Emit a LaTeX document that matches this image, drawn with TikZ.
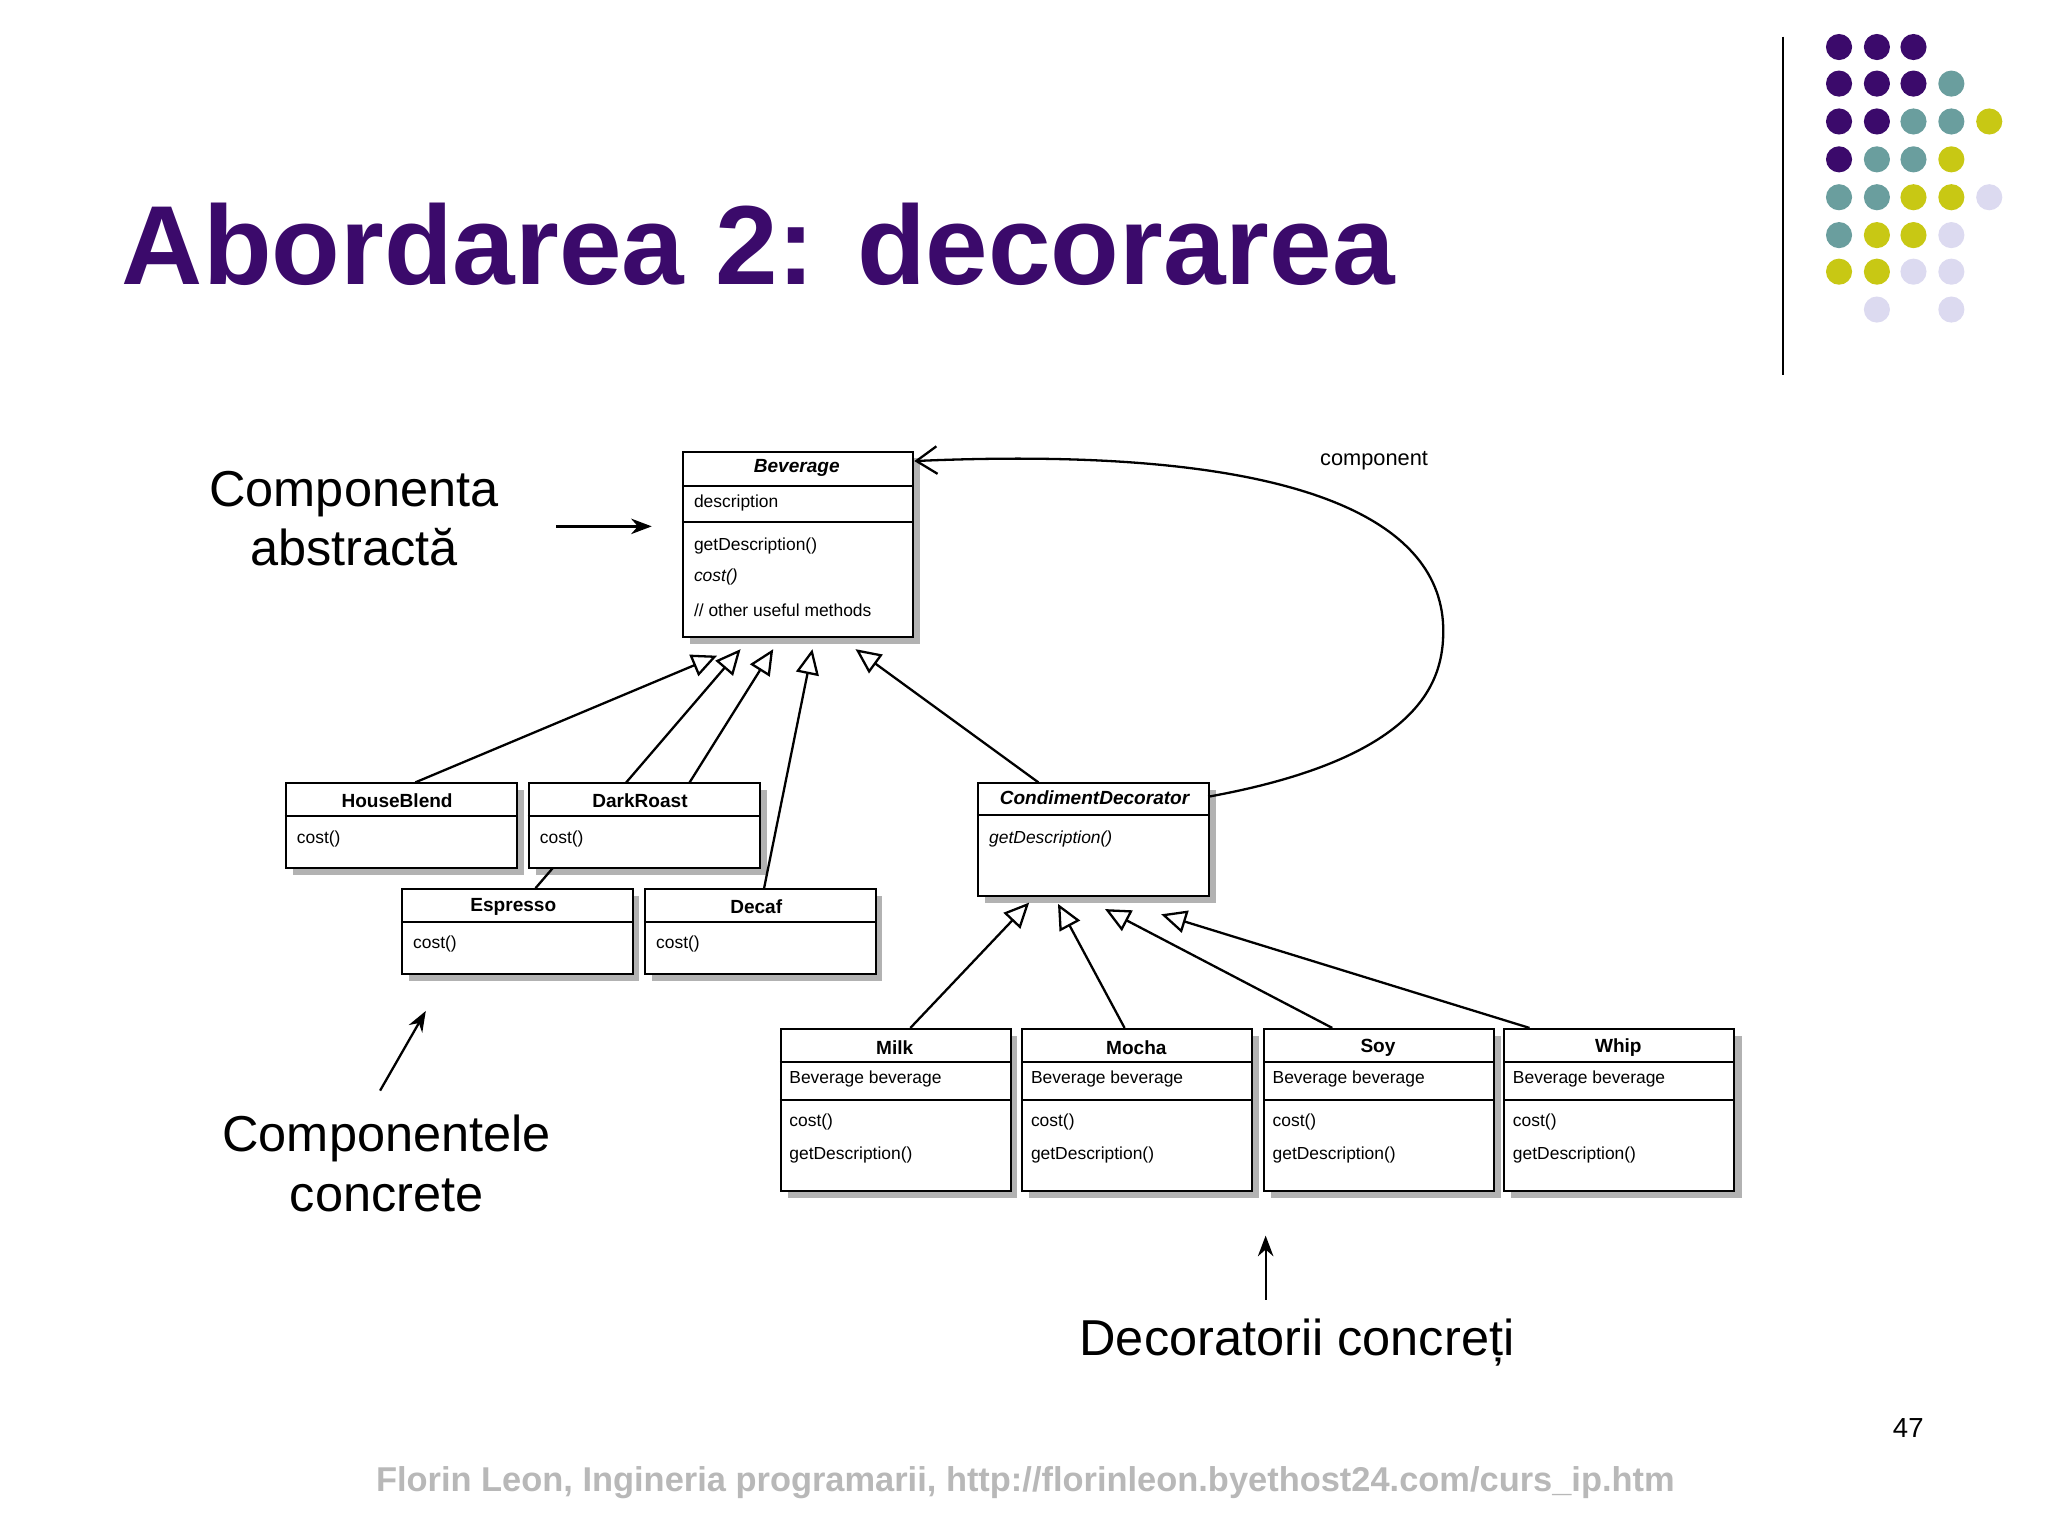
\documentclass[tikz,border=0pt]{standalone}
\usepackage{fontspec}
\setmainfont{Liberation Sans}
\usetikzlibrary{arrows.meta}
\definecolor{ttl}{HTML}{3B0A6B}
\definecolor{dP}{HTML}{3B0A6B}
\definecolor{dT}{HTML}{6A9E9E}
\definecolor{dY}{HTML}{C8C814}
\definecolor{dL}{HTML}{DCDAF0}
\tikzset{
 box/.style={draw,line width=0.9pt,fill=white,anchor=north west,inner sep=0pt},
 sh/.style={fill=black!30},
 gen/.style={line width=1pt,-{Triangle[open,length=11pt,width=10pt,fill=white]}},
 uml/.style={font=\fontsize{7.6}{9}\selectfont,anchor=west,inner sep=0pt},
 umlt/.style={font=\fontsize{8.3}{9}\selectfont\bfseries,inner sep=0pt},
 lbl/.style={font=\fontsize{22}{26}\selectfont,align=center},
}
\begin{document}
\begin{tikzpicture}[x=0.02cm,y=-0.02cm]
\useasboundingbox (0,0) rectangle (1568,1176);
% title
\node[anchor=west,font=\fontsize{49}{55}\selectfont\bfseries,text=ttl,inner sep=0pt] (title) at (93,187) {Abordarea 2: decorarea};
\draw[line width=1pt] (1365,28) -- (1365,287);
% dots
\foreach \x/\y/\c in {1408/36/dP,1437/36/dP,1465/36/dP,
 1408/64/dP,1437/64/dP,1465/64/dP,1494/64/dT,
 1408/93/dP,1437/93/dP,1465/93/dT,1494/93/dT,1523/93/dY,
 1408/122/dP,1437/122/dT,1465/122/dT,1494/122/dY,
 1408/151/dT,1437/151/dT,1465/151/dY,1494/151/dY,1523/151/dL,
 1408/180/dT,1437/180/dY,1465/180/dY,1494/180/dL,
 1408/208/dY,1437/208/dY,1465/208/dL,1494/208/dL,
 1437/237/dL,1494/237/dL}
 \fill[\c] (\x,\y) circle (10);
% shadows
\foreach \a/\b/\c/\d in {522/345/698/487, 218/599/395/664, 404/599/581/664, 307/680/483/745, 493/680/669/745, 748/599/925/685, 597/787/773/911, 782/787/958/911, 967/787/1143/911, 1151/787/1328/911}
 \fill[sh] (\a+6,\b+6) rectangle (\c+6,\d+6);
% generalization lines (drawn before boxes)
\coordinate (hbT) at (318,599);
\coordinate (esT) at (410,680);
\coordinate (drT) at (528,599);
\coordinate (dcT) at (585,680);
\coordinate (cdT) at (795,599);
\draw[gen] (hbT) -- (549,502);
\draw[gen] (esT) -- (567,497);
\draw[gen] (drT) -- (592,497);
\draw[gen] (dcT) -- (622,497);
\draw[gen] (cdT) -- (655,497);
% Beverage
\node[box,minimum width=3.52cm,minimum height=2.84cm] (bev) at (522,345) {};
\draw[line width=0.9pt] (522,372) -- (698,372) (522,400) -- (698,400);
\node[umlt,font=\fontsize{8.3}{9}\selectfont\bfseries\itshape] at (610,358) {Beverage};
\node[uml] at (531,385) {description};
\node[uml] at (531,418) {getDescription()};
\node[uml] at (531,442) {\itshape cost()};
\node[uml] at (531,467) {// other useful methods};
% concrete components
\foreach \n/\x/\y/\t in {hb/218/599/HouseBlend, dr/404/599/DarkRoast, es/307/680/Espresso, dc/493/680/Decaf}{
 \node[box,minimum width=3.54cm,minimum height=1.3cm] (\n) at (\x,\y) {};
 \draw[line width=0.9pt] (\x,\y+26) -- (\x+177,\y+26);
 \node[umlt] at (\x+86,\y+14) {\t};
 \node[uml] at (\x+9,\y+43) {cost()};
}
% CondimentDecorator
\node[box,minimum width=3.54cm,minimum height=1.72cm] (cd) at (748,599) {};
\draw[line width=0.9pt] (748,624) -- (925,624);
\node[umlt,font=\fontsize{8.3}{9}\selectfont\bfseries\itshape] at (838,611) {CondimentDecorator};
\node[uml] at (757,642) {\itshape getDescription()};
% decorators
\foreach \n/\x/\t in {mi/597/Milk, mo/782/Mocha, so/967/Soy, wh/1151/Whip}{
 \node[box,minimum width=3.52cm,minimum height=2.48cm] (\n) at (\x,787) {};
 \draw[line width=0.9pt] (\x,813) -- (\x+176,813) (\x,842) -- (\x+176,842);
 \node[umlt] at (\x+88,802) {\t};
 \node[uml] at (\x+7,826) {Beverage beverage};
 \node[uml] at (\x+7,859) {cost()};
 \node[uml] at (\x+7,884) {getDescription()};
}
\draw[gen] (697,787) -- (788,691);
\draw[gen] (861,787) -- (810,692);
\draw[gen] (1020,787) -- (846,696);
\draw[gen] (1171,787) -- (889,700);
% component association
\draw[line width=1pt,-{Straight Barb[length=9pt,width=12pt]}] (925,610) .. controls (1090,580) and (1105,520) .. (1105,483) .. controls (1105,400) and (1000,340) .. (700,353);
\node[font=\fontsize{9.5}{11}\selectfont\rmfamily] (comp) at (1052,353) {component};
% labels
\node[lbl] (l1) at (271,397) {Componenta\\abstractă};
\coordinate (a1) at (426,403); \coordinate (a1e) at (499,403);
\draw[line width=1pt,-{Stealth[length=9pt]}] (a1) -- (a1e);
\node[lbl] (l2) at (296,891) {Componentele\\concrete};
\coordinate (a2) at (291,835); \coordinate (a2e) at (326,774);
\draw[line width=1pt,-{Stealth[length=9pt]}] (a2) -- (a2e);
\node[lbl] (l3) at (993,1028) {Decoratorii concreți};
\coordinate (a3) at (969,995); \coordinate (a3e) at (969,946);
\draw[line width=1pt,-{Stealth[length=9pt]}] (a3) -- (a3e);
\node[font=\fontsize{12}{14}\selectfont] (pg) at (1461,1093) {47};
\node[font=\fontsize{15}{18}\selectfont\bfseries,text=black!28] (ft) at (785,1135) {Florin Leon, Ingineria programarii, http://florinleon.byethost24.com/curs\_ip.htm};
\end{tikzpicture}
\end{document}
